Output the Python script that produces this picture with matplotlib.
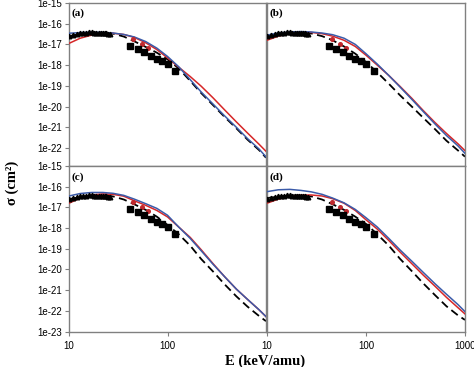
import numpy as np
import matplotlib

matplotlib.use("Agg")
import matplotlib.pyplot as plt
from matplotlib.ticker import FixedLocator, FuncFormatter, NullLocator

E_curve = [10, 13, 17, 22, 28, 36, 46, 60, 78, 100, 130, 170, 220, 290, 380, 500, 650, 850, 1000]

# log10 of sigma (cm^2) for each panel: blue, red, black dashed
blue_a = [-16.46, -16.43, -16.41, -16.42, -16.45, -16.52, -16.64, -16.86, -17.18, -17.58, -18.08,
          -18.70, -19.30, -19.88, -20.45, -21.00, -21.55, -22.05, -22.43]
red_a = [-16.95, -16.70, -16.55, -16.47, -16.46, -16.52, -16.66, -16.92, -17.25, -17.65, -18.10,
         -18.55, -19.02, -19.58, -20.16, -20.74, -21.28, -21.82, -22.16]
dash_a = [-16.60, -16.50, -16.44, -16.43, -16.48, -16.62, -16.85, -17.12, -17.40, -17.72, -18.16,
          -18.76, -19.35, -19.93, -20.50, -21.05, -21.60, -22.10, -22.47]

blue_b = [-16.55, -16.45, -16.40, -16.38, -16.40, -16.45, -16.53, -16.70, -17.00, -17.45, -17.95,
          -18.50, -19.05, -19.65, -20.25, -20.85, -21.40, -21.90, -22.26]
red_b = [-16.80, -16.60, -16.48, -16.42, -16.42, -16.48, -16.60, -16.80, -17.10, -17.52, -18.00,
         -18.50, -19.02, -19.60, -20.20, -20.78, -21.30, -21.80, -22.13]
dash_b = [-16.60, -16.50, -16.43, -16.42, -16.47, -16.60, -16.80, -17.10, -17.45, -17.85, -18.35,
          -18.90, -19.45, -20.00, -20.55, -21.10, -21.65, -22.12, -22.42]

blue_c = [-16.45, -16.33, -16.28, -16.28, -16.32, -16.42, -16.60, -16.82, -17.05, -17.38, -17.95,
          -18.50, -19.10, -19.75, -20.35, -20.95, -21.45, -21.95, -22.28]
red_c = [-16.80, -16.55, -16.40, -16.35, -16.37, -16.46, -16.68, -16.90, -17.15, -17.46, -17.95,
         -18.45, -19.05, -19.72, -20.35, -20.95, -21.45, -21.95, -22.28]
dash_c = [-16.60, -16.50, -16.43, -16.42, -16.47, -16.62, -16.85, -17.12, -17.45, -17.85, -18.30,
          -18.85, -19.50, -20.10, -20.72, -21.30, -21.80, -22.25, -22.50]

blue_d = [-16.24, -16.15, -16.13, -16.18, -16.25, -16.37, -16.55, -16.78, -17.10, -17.50, -17.95,
          -18.50, -19.05, -19.60, -20.15, -20.70, -21.20, -21.70, -22.04]
red_d = [-16.80, -16.60, -16.47, -16.41, -16.40, -16.45, -16.58, -16.80, -17.15, -17.60, -18.05,
         -18.60, -19.15, -19.72, -20.28, -20.82, -21.35, -21.85, -22.15]
dash_d = [-16.55, -16.48, -16.42, -16.42, -16.47, -16.62, -16.85, -17.12, -17.45, -17.80, -18.30,
          -18.85, -19.48, -20.08, -20.68, -21.25, -21.78, -22.22, -22.44]

# experimental points (same in every panel)
E_tri = [10, 11, 12, 13, 14, 15, 16, 17, 18, 19, 20, 21, 22, 23, 24, 25, 26]
sig_tri = [2.6e-17, 2.9e-17, 3.2e-17, 3.4e-17, 3.6e-17, 3.7e-17, 3.8e-17, 3.8e-17, 3.7e-17,
           3.7e-17, 3.6e-17, 3.5e-17, 3.5e-17, 3.4e-17, 3.4e-17, 3.3e-17, 3.3e-17]
E_sq = [42, 50, 58, 68, 78, 88, 100, 120]
sig_sq = [8.3e-18, 6.3e-18, 4.2e-18, 2.8e-18, 2.0e-18, 1.6e-18, 1.1e-18, 5.0e-19]
E_dot = [45, 55, 63]
sig_dot = [1.8e-17, 1.05e-17, 6.7e-18]

panels = {
    "a": (blue_a, red_a, dash_a),
    "b": (blue_b, red_b, dash_b),
    "c": (blue_c, red_c, dash_c),
    "d": (blue_d, red_d, dash_d),
}

SANS = "Liberation Sans"
SERIF = "Liberation Serif"
GREY = "#808080"

fig = plt.figure(figsize=(4.74, 3.67), dpi=100)
W, H = 474, 367


def box(x0, x1, y0, y1):
    # pixel box -> figure fraction
    return [x0 / W, 1 - y1 / H, (x1 - x0) / W, (y1 - y0) / H]


rects = {
    "a": (box(69, 266, 3, 166), -22.87),
    "b": (box(267, 465, 3, 166), -22.87),
    "c": (box(69, 266, 166, 331.5), -23.0),
    "d": (box(267, 465, 166, 331.5), -23.0),
}

decade_fmt = FuncFormatter(lambda v, _: f"1e{int(round(np.log10(v)))}")

for key, (rect, ybot) in rects.items():
    ax = fig.add_axes(rect)
    blue, red, dash = panels[key]
    E = np.array(E_curve)
    ax.plot(E, 10 ** np.array(dash), color="black", lw=1.3, ls=(0, (4.5, 2.5)), zorder=2)
    ax.plot(E, 10 ** np.array(red), color="#d62728", lw=1.1, zorder=3)
    ax.plot(E, 10 ** np.array(blue), color="#3b5ba9", lw=1.1, zorder=3)

    ax.plot(E_dot, sig_dot, "o", color="#c0282d", ms=2.6, zorder=4)
    ax.plot(E_sq, sig_sq, "s", color="black", ms=4.2, zorder=5)
    ax.plot(E_tri, sig_tri, "^", color="black", ms=3.3, zorder=5)

    ax.set_xscale("log")
    ax.set_yscale("log")
    ax.set_xlim(10, 1000)
    ax.set_ylim(10 ** ybot, 1e-15)

    for s in ax.spines.values():
        s.set_color(GREY)
        s.set_linewidth(1.0)

    ax.xaxis.set_minor_locator(NullLocator())
    ax.yaxis.set_minor_locator(NullLocator())

    left = key in ("a", "c")
    bottom = key in ("c", "d")

    if left:
        low_exp = -22 if key == "a" else -23
        ax.yaxis.set_major_locator(FixedLocator([10.0 ** k for k in range(low_exp, -14)]))
        ax.yaxis.set_major_formatter(decade_fmt)
        ax.tick_params(axis="y", direction="out", length=3, width=0.8, color=GREY,
                       labelsize=7, pad=2)
    else:
        ax.yaxis.set_major_locator(NullLocator())

    if bottom:
        ticks = [10, 100] if key == "c" else [10, 100, 1000]
        ax.xaxis.set_major_locator(FixedLocator(ticks))
        ax.xaxis.set_major_formatter(FuncFormatter(lambda v, _: f"{int(v)}"))
        ax.tick_params(axis="x", direction="out", length=3, width=0.8, color=GREY,
                       labelsize=7, pad=4)
    else:
        ax.xaxis.set_major_locator(NullLocator())

    for lab in ax.get_xticklabels() + ax.get_yticklabels():
        lab.set_family(SANS)

    ax.text(0.015, 0.935, f"({key})", transform=ax.transAxes, fontsize=8,
            fontweight="bold", family=SERIF, ha="left", va="center")

fig.text(12 / W, 1 - 183 / H, "σ (cm²)", rotation=90, fontsize=10.5, fontweight="bold",
         family=SERIF, ha="center", va="center")
fig.text(265 / W, 1 - 361 / H, "E (keV/amu)", fontsize=10.5, fontweight="bold",
         family=SERIF, ha="center", va="center")

fig.savefig("out.png", dpi=100)
